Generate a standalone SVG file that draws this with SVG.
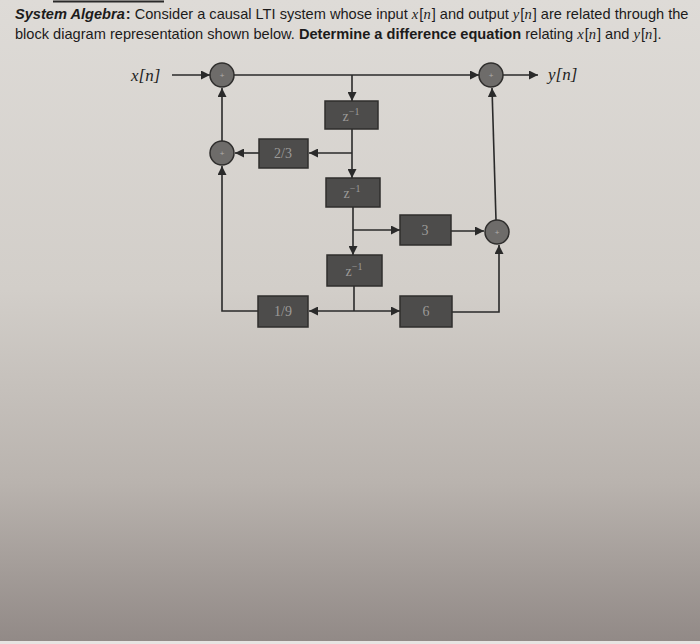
<svg xmlns="http://www.w3.org/2000/svg" width="700" height="644" viewBox="0 0 700 644">
<defs>
<linearGradient id="bg" x1="0" y1="0" x2="0" y2="1">
<stop offset="0" stop-color="#dedbd7"/>
<stop offset="0.45" stop-color="#d2cec9"/>
<stop offset="0.75" stop-color="#b9b3ae"/>
<stop offset="1" stop-color="#918986"/>
</linearGradient>
<marker id="ah" viewBox="0 0 10 10" refX="10" refY="5" markerWidth="9" markerHeight="9" markerUnits="userSpaceOnUse" orient="auto">
<path d="M0,0 L10,5 L0,10 z" fill="#2a2a2a"/>
</marker>
<style>
.blk{fill:#4d4c4b;stroke:#2f2e2d;stroke-width:1.5}
.bt{font-family:"Liberation Serif",serif;font-size:14px;fill:#9c9a98;text-anchor:middle}
.add{fill:#6e6c6a;stroke:#2f2e2d;stroke-width:1.5}
.pl{font-family:"Liberation Sans",sans-serif;font-size:8px;fill:#b0aeab;text-anchor:middle}
.ln{fill:none;stroke:#2a2a2a;stroke-width:1.6}
.ar{marker-end:url(#ah)}
.tt{font-family:"Liberation Sans",sans-serif;font-size:14.6px;fill:#1c1b1b}
.m{font-family:"Liberation Serif",serif;font-style:italic}
.lab{font-family:"Liberation Serif",serif;font-style:italic;font-size:17px;fill:#222}
</style>
</defs>
<rect width="700" height="644" fill="url(#bg)"/>
<rect y="641" width="700" height="3" fill="#e6e4e2"/>
<line x1="53" y1="1.5" x2="164" y2="1.5" stroke="#2a2a2a" stroke-width="2"/>

<g id="title">
<text class="tt" x="15" y="19"><tspan font-weight="bold" font-style="italic">System Algebra</tspan><tspan font-weight="bold" dx="1">:</tspan> Consider a causal LTI system whose input <tspan class="m">x</tspan><tspan dx="1">[</tspan><tspan class="m">n</tspan><tspan dx="1">]</tspan> and output <tspan class="m">y</tspan><tspan dx="1">[</tspan><tspan class="m">n</tspan><tspan dx="1">]</tspan> are related through the</text>
<text class="tt" x="15" y="39">block diagram representation shown below. <tspan font-weight="bold">Determine a difference equation</tspan> relating <tspan class="m">x</tspan><tspan dx="1">[</tspan><tspan class="m">n</tspan><tspan dx="1">]</tspan> and <tspan class="m">y</tspan><tspan dx="1">[</tspan><tspan class="m">n</tspan><tspan dx="1">]</tspan>.</text>
</g>

<g id="connectors">
<line class="ln ar" x1="172" y1="75" x2="210" y2="75"/>
<line class="ln ar" x1="234" y1="75" x2="479" y2="75"/>
<line class="ln ar" x1="352" y1="75" x2="352" y2="101"/>
<line class="ln ar" x1="352" y1="129" x2="352" y2="178"/>
<line class="ln ar" x1="352" y1="153" x2="309" y2="153"/>
<line class="ln ar" x1="259" y1="153" x2="235" y2="153"/>
<line class="ln ar" x1="222" y1="141" x2="222" y2="88"/>
<line class="ln ar" x1="353" y1="207" x2="353" y2="255"/>
<line class="ln ar" x1="353" y1="230" x2="400" y2="230"/>
<line class="ln ar" x1="451" y1="231" x2="484" y2="231"/>
<polyline class="ln" points="354,286 354,311"/>
<line class="ln ar" x1="354" y1="311" x2="309" y2="311"/>
<line class="ln ar" x1="354" y1="311" x2="400" y2="311"/>
<polyline class="ln ar" points="258,311 222,311 222,166"/>
<polyline class="ln ar" points="452,312 499,312 499,245"/>
<line class="ln ar" x1="496" y1="220" x2="492" y2="88"/>
<line class="ln ar" x1="503" y1="75" x2="538" y2="75"/>
</g>

<g id="xn"><text class="lab" x="131" y="81">x[n]</text></g>
<g id="yn"><text class="lab" x="548" y="80">y[n]</text></g>

<g id="adder1"><circle class="add" cx="222" cy="75" r="12"/><text class="pl" x="222" y="78">+</text></g>
<g id="adder2"><circle class="add" cx="222" cy="153" r="12"/><text class="pl" x="222" y="156">+</text></g>
<g id="adder3"><circle class="add" cx="491" cy="75" r="12"/><text class="pl" x="491" y="78">+</text></g>
<g id="adder4"><circle class="add" cx="497" cy="232" r="12"/><text class="pl" x="497" y="235">+</text></g>

<g id="delay1"><rect class="blk" x="325" y="101" width="53" height="28"/><text class="bt" x="351" y="121">z<tspan font-size="10" dy="-6">−1</tspan></text></g>
<g id="gain23"><rect class="blk" x="259" y="139" width="49" height="29"/><text class="bt" x="283" y="158">2/3</text></g>
<g id="delay2"><rect class="blk" x="326" y="178" width="54" height="29"/><text class="bt" x="352" y="198">z<tspan font-size="10" dy="-6">−1</tspan></text></g>
<g id="gain3"><rect class="blk" x="400" y="215" width="51" height="30"/><text class="bt" x="425" y="235">3</text></g>
<g id="delay3"><rect class="blk" x="327" y="255" width="55" height="31"/><text class="bt" x="354" y="276">z<tspan font-size="10" dy="-6">−1</tspan></text></g>
<g id="gain19"><rect class="blk" x="258" y="296" width="50" height="31"/><text class="bt" x="283" y="316">1/9</text></g>
<g id="gain6"><rect class="blk" x="400" y="296" width="52" height="31"/><text class="bt" x="426" y="316">6</text></g>
</svg>
